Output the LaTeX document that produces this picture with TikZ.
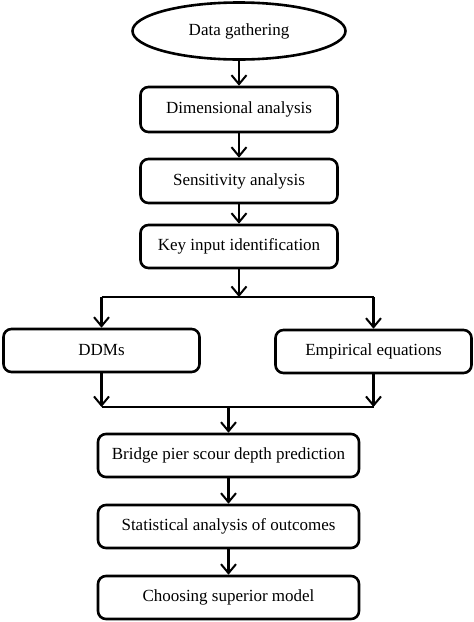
\documentclass[tikz,border=0pt]{standalone}
\usepackage{fontspec}
\setmainfont{Liberation Serif}
\usetikzlibrary{shapes.geometric,arrows.meta}
\begin{document}
\begin{tikzpicture}[x=1pt,y=-1pt,
  line width=2.6pt,
  every node/.style={font=\fontsize{17}{20}\selectfont, inner sep=0pt},
  stepbox/.style={draw, rounded corners=8pt, minimum height=43pt},
  topbox/.style={stepbox, minimum width=197pt},
  sidebox/.style={stepbox, minimum width=196pt},
  botbox/.style={stepbox, minimum width=261pt},
  arr/.style={-{Straight Barb[length=9pt,width=15pt,line width=2pt]}}]
\useasboundingbox (0,0) rectangle (474,622);
\node[draw, ellipse, minimum width=213pt, minimum height=57pt] (e) at (239,31) {Data gathering};
\node[topbox, minimum height=45pt] (dim) at (239,109.5) {Dimensional analysis};
\node[topbox, minimum height=44pt] (sen) at (239,181) {Sensitivity analysis};
\node[topbox] (key) at (239,246.5) {Key input identification};
\coordinate (split) at (239,297);
\coordinate (sl) at (101.5,297);
\coordinate (sr) at (373.5,297);
\node[sidebox] (ddm) at (101.5,350.5) {DDMs};
\node[sidebox] (emp) at (373.5,351.5) {Empirical equations};
\coordinate (jl) at (101.5,407);
\coordinate (jr) at (373.5,407);
\coordinate (jm) at (228.5,407);
\node[botbox] (bri) at (228.5,455.5) {Bridge pier scour depth prediction};
\node[botbox] (sta) at (228.5,526.5) {Statistical analysis of outcomes};
\node[botbox] (cho) at (228.5,597.5) {Choosing superior model};
\draw[arr] (e) -- (dim);
\draw[arr] (dim) -- (sen);
\draw[arr] (sen) -- (key);
\draw[arr] (key) -- (split);
\draw (sl) -- (sr);
\draw[arr] (sl) -- (ddm);
\draw[arr] (sr) -- (emp);
\draw[arr] (ddm) -- (jl);
\draw[arr] (emp) -- (jr);
\draw (jl) -- (jr);
\draw[arr] (jm) -- (bri);
\draw[arr] (bri) -- (sta);
\draw[arr] (sta) -- (cho);
\end{tikzpicture}
\end{document}
